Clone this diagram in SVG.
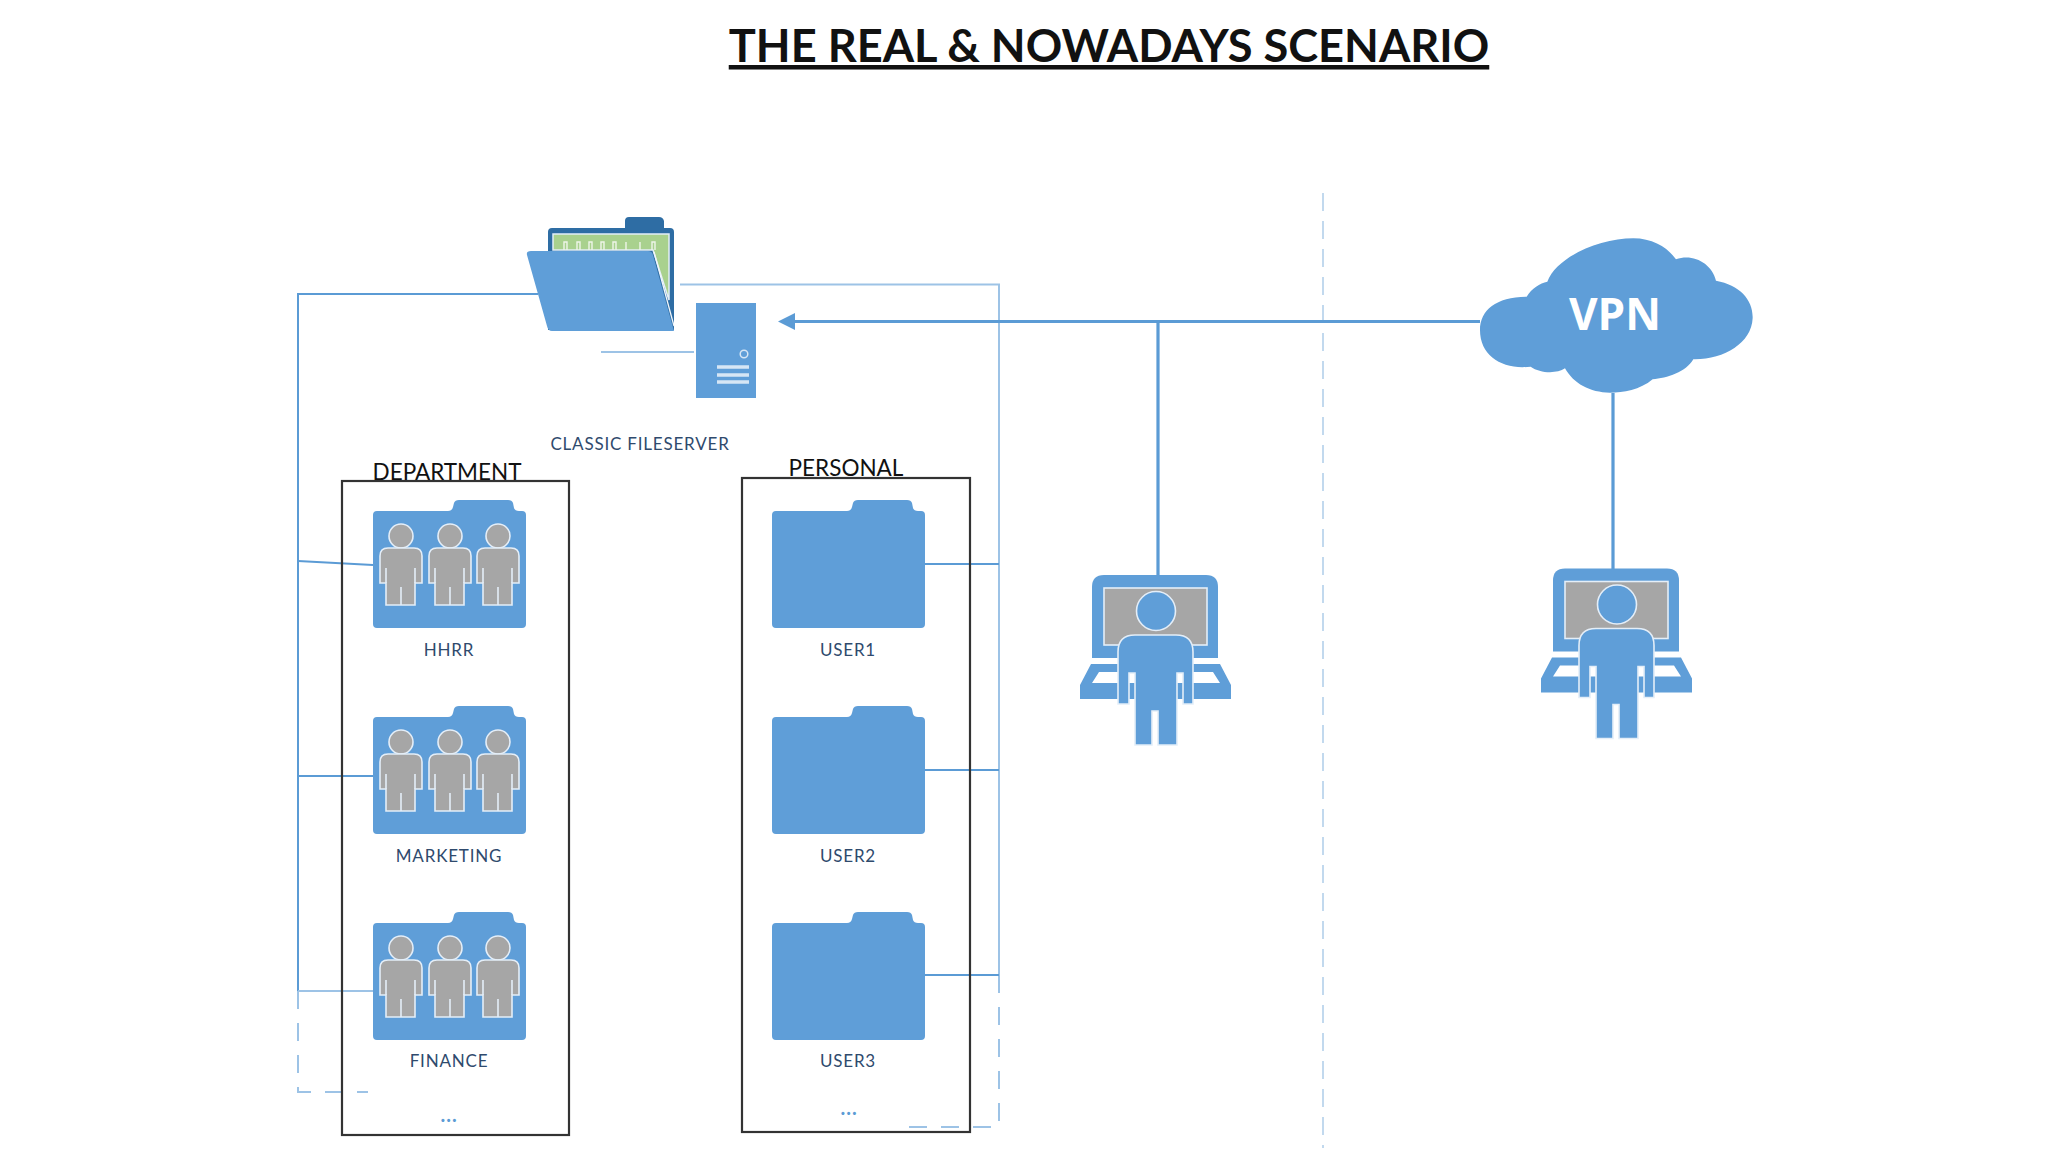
<svg xmlns="http://www.w3.org/2000/svg" width="2048" height="1152" viewBox="0 0 2048 1152">
<style>
.bg{fill:#fff}
.b{fill:#5f9ed8}
.line{fill:none;stroke:#5b9bd5;stroke-width:2}
.thick{fill:none;stroke:#5b9bd5;stroke-width:3.2}
.light{fill:none;stroke:#9dc3e6;stroke-width:2}
.dash{fill:none;stroke:#9dc3e6;stroke-width:2;stroke-dasharray:18 14}
.mid{fill:none;stroke:#c2d9ee;stroke-width:2;stroke-dasharray:18 10}
.box{fill:none;stroke:#333;stroke-width:2.2}
.lab{font-family:"Lato","Open Sans",sans-serif;font-size:17px;fill:#2f4a6d;text-anchor:middle;letter-spacing:.8px}
.head{font-family:"Lato","Open Sans",sans-serif;font-size:22.5px;fill:#111;text-anchor:middle}
.dots{font-family:"Lato","Open Sans",sans-serif;font-size:20px;font-weight:700;fill:#5b9bd5;text-anchor:middle;letter-spacing:1px}
.p{fill:#a6a6a6;stroke:#e4eef8;stroke-width:1.6}
.s{fill:none;stroke:#e4eef8;stroke-width:1.6}
</style>
<defs>
<path id="fold" class="b" d="M373 515q0-4 4-4h71q4 0 5-4l1-4q1-3 5-3h49q4 0 5 3l1 5q1 3 5 3h3q4 0 4 4v109q0 4-4 4H377q-4 0-4-4Z"/>
<g id="person"><circle class="p" cx="401" cy="536" r="12"/><path class="p" d="M380 556q0-8 8-8h26q8 0 8 8v27h-7v22h-29v-22h-6Z"/><path class="s" d="M386 568v15M415 568v15M401 587v18"/></g>
<g id="people"><use href="#fold"/><use href="#person"/><use href="#person" x="49"/><use href="#person" x="97"/></g>
<g id="user">
<path class="b" d="M1092 587q0-12 12-12h102q12 0 12 12v71h-126Z"/>
<rect x="1104" y="588" width="103" height="57" fill="#a6a6a6" stroke="#e4eef8" stroke-width="1.6"/>
<path class="b" fill-rule="evenodd" d="M1091 664h129l11 21v14h-151v-14ZM1099 672l-7 11h128l-7-11Z"/>
<path class="b" stroke="#e4eef8" stroke-width="1.6" d="M1118 652q0-17 17-17h41q17 0 17 17v52h-10v-31h-6v72h-19v-34h-6v34h-17v-72h-6v31h-11Z"/>
<circle class="b" stroke="#e4eef8" stroke-width="1.6" cx="1156" cy="611" r="19.5"/>
</g>
</defs>
<rect class="bg" width="2048" height="1152"/>
<text id="title" x="1109" y="62" font-family="Lato,'Open Sans',sans-serif" font-size="45.2" font-weight="700" fill="#111" text-anchor="middle" text-decoration="underline">THE REAL &amp; NOWADAYS SCENARIO</text>
<g id="connectors">
<path class="mid" d="M1323 193V1148"/>
<path class="line" d="M538 294H298V991"/>
<path class="dash" d="M298 991V1092H368"/>
<path class="light" d="M680 284.500H999V975"/>
<path class="dash" d="M999 975V1127H900"/>
<path class="light" d="M601 352H694"/>
<path class="line" d="M298 561L373 565M298 776H373"/>
<path class="light" d="M298 991H373"/>
<path class="line" d="M925 564H999M925 770H999M925 975H999"/>
<path class="thick" d="M790 321.500H1480"/>
<path fill="#5b9bd5" d="M778 321.500L795 313V330Z"/>
<path class="thick" d="M1158 321.500V577M1613 393V570"/>
</g>
<g id="department"><rect class="box" x="342" y="481" width="227" height="654"/><text class="head" x="447" y="480">DEPARTMENT</text></g>
<g id="personal"><rect class="box" x="742" y="478" width="228" height="654"/><text class="head" x="846" y="476">PERSONAL</text></g>
<g id="hhrr"><use href="#people"/><text class="lab" x="449" y="656">HHRR</text></g>
<g id="marketing"><use href="#people" y="206"/><text class="lab" x="449" y="862">MARKETING</text></g>
<g id="finance"><use href="#people" y="412"/><text class="lab" x="449" y="1067">FINANCE</text></g>
<text class="dots" x="449" y="1122">...</text>
<g id="user1"><use href="#fold" x="399"/><text class="lab" x="848" y="656">USER1</text></g>
<g id="user2"><use href="#fold" x="399" y="206"/><text class="lab" x="848" y="862">USER2</text></g>
<g id="user3"><use href="#fold" x="399" y="412"/><text class="lab" x="848" y="1067">USER3</text></g>
<text class="dots" x="849" y="1115">...</text>
<g id="fileserver">
<path fill="#2e6da4" d="M548 232q0-4 4-4h73v-7q0-4 4-4h30q4 0 5 4v7h6q4 0 4 4v98H548Z"/>
<path d="M553 234H669V300L653 250H553Z" fill="#a9d18e" stroke="#e4eef8" stroke-width="1.500"/>
<path fill="none" stroke="#eef5e8" stroke-width="1.400" d="M564 250v-8h3v8M577 250v-8h3v8M589 250v-8h3v8M601 250v-8h3v8M613 250v-8h3v8M626 250v-8M640 250v-8M652 250v-8h3v8"/>
<path class="b" d="M531 251H648q4 0 5 4l21 76H552q-4 0-5-5L527 255q-1-4 4-4Z"/>
<path fill="none" stroke="#f2f7fc" stroke-width="1.300" d="M654 252L674 326"/>
<rect class="b" x="696" y="303" width="60" height="95"/>
<circle cx="744" cy="354" r="3.800" fill="none" stroke="#d6e6f5" stroke-width="1.500"/>
<path fill="none" stroke="#d6e6f5" stroke-width="3.500" d="M717 367H749M717 375H749M717 382H749"/>
<text class="lab" x="640" y="450">CLASSIC FILESERVER</text>
</g>
<g id="vpn">
<path class="b" transform="translate(1460 220) scale(.3333)" d="M60 330C60 270 110 230 200 230C215 205 240 190 262 185C290 110 420 55 520 55C580 55 625 85 648 118C700 100 755 130 768 182C840 195 880 240 878 295C875 370 790 420 700 418C680 455 620 475 578 478C540 510 490 518 450 518C390 518 340 490 315 445C290 462 240 460 212 440C130 450 60 410 60 330Z"/>
<text x="1615" y="330" font-family="'Open Sans',Lato,sans-serif" font-size="44" font-weight="700" fill="#fff" text-anchor="middle">VPN</text>
</g>
<g id="laptop1"><use href="#user"/></g>
<g id="laptop2"><use href="#user" x="461" y="-6.500"/></g>
</svg>
